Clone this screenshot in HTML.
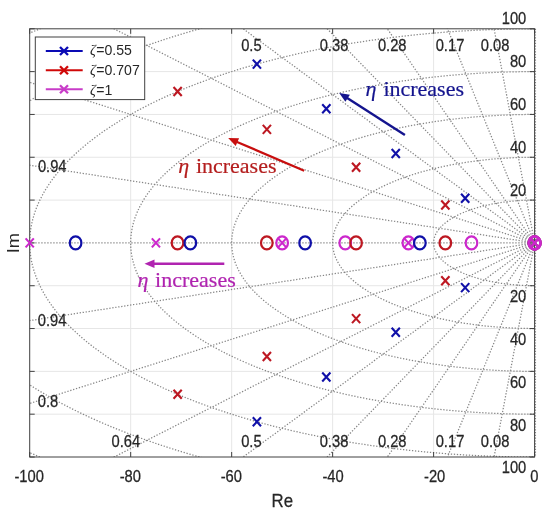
<!DOCTYPE html>
<html><head><meta charset="utf-8"><title>pzmap</title>
<style>html,body{margin:0;padding:0;background:#fff;}svg{display:block;}</style></head>
<body><svg width="550" height="517" viewBox="0 0 550 517">
<rect width="550" height="517" fill="#fff"/>
<defs><clipPath id="cb"><rect x="29.70" y="28.80" width="504.90" height="428.20"/></clipPath></defs>
<path d="M130.68 28.80V457.00 M231.66 28.80V457.00 M332.64 28.80V457.00 M433.62 28.80V457.00 M29.70 71.62H534.60 M29.70 114.44H534.60 M29.70 157.26H534.60 M29.70 200.08H534.60 M29.70 285.72H534.60 M29.70 328.54H534.60 M29.70 371.36H534.60 M29.70 414.18H534.60" stroke="#e6e6e6" stroke-width="1" fill="none"/>
<g clip-path="url(#cb)"><path d="M534.60 242.90L-414.61 96.81 M534.60 242.90L-414.61 388.99 M534.60 242.90L-273.24 -14.02 M534.60 242.90L-273.24 499.82 M534.60 242.90L-111.67 -86.12 M534.60 242.90L-111.67 571.92 M534.60 242.90L29.70 -127.93 M534.60 242.90L29.70 613.73 M534.60 242.90L150.88 -153.18 M534.60 242.90L150.88 638.98 M534.60 242.90L251.86 -168.17 M534.60 242.90L251.86 653.97 M534.60 242.90L362.93 -179.07 M534.60 242.90L362.93 664.87 M534.60 242.90L453.82 -183.93 M534.60 242.90L453.82 669.73 M534.60 242.90L-475.20 242.90 M534.60 200.08A100.98 42.82 0 0 0 433.62 242.90A100.98 42.82 0 0 0 534.60 285.72 M534.60 157.26A201.96 85.64 0 0 0 332.64 242.90A201.96 85.64 0 0 0 534.60 328.54 M534.60 114.44A302.94 128.46 0 0 0 231.66 242.90A302.94 128.46 0 0 0 534.60 371.36 M534.60 71.62A403.92 171.28 0 0 0 130.68 242.90A403.92 171.28 0 0 0 534.60 414.18 M534.60 28.80A504.90 214.10 0 0 0 29.70 242.90A504.90 214.10 0 0 0 534.60 457.00 M534.60 -14.02A605.88 256.92 0 0 0 -71.28 242.90A605.88 256.92 0 0 0 534.60 499.82 M534.60 -56.84A706.86 299.74 0 0 0 -172.26 242.90A706.86 299.74 0 0 0 534.60 542.64" stroke="#858585" stroke-width="1.25" stroke-dasharray="1.3 1.7" fill="none"/></g>
<path d="M535.50 28.80V457.00" stroke="#858585" stroke-width="1.1" stroke-dasharray="1.2 1.6"/>
<path d="M29.70 457.00v-5M29.70 28.80v5 M130.68 457.00v-5M130.68 28.80v5 M231.66 457.00v-5M231.66 28.80v5 M332.64 457.00v-5M332.64 28.80v5 M433.62 457.00v-5M433.62 28.80v5 M534.60 457.00v-5M534.60 28.80v5 M29.70 457.00h5M534.60 457.00h-5 M29.70 414.18h5M534.60 414.18h-5 M29.70 371.36h5M534.60 371.36h-5 M29.70 328.54h5M534.60 328.54h-5 M29.70 285.72h5M534.60 285.72h-5 M29.70 242.90h5M534.60 242.90h-5 M29.70 200.08h5M534.60 200.08h-5 M29.70 157.26h5M534.60 157.26h-5 M29.70 114.44h5M534.60 114.44h-5 M29.70 71.62h5M534.60 71.62h-5 M29.70 28.80h5M534.60 28.80h-5" stroke="#404040" stroke-width="1" fill="none"/>
<rect x="29.70" y="28.80" width="504.90" height="428.20" stroke="#404040" stroke-width="1" fill="none"/>
<path d="M25.60 238.40L33.80 247.40M25.60 247.40L33.80 238.40" stroke="#cc28cc" stroke-width="2.1" fill="none"/>
<ellipse cx="282.15" cy="242.90" rx="5.8" ry="6.5" stroke="#cc28cc" stroke-width="2.2" fill="none"/>
<path d="M151.83 238.40L160.03 247.40M151.83 247.40L160.03 238.40" stroke="#cc28cc" stroke-width="2.1" fill="none"/>
<ellipse cx="345.26" cy="242.90" rx="5.8" ry="6.5" stroke="#cc28cc" stroke-width="2.2" fill="none"/>
<path d="M278.05 238.40L286.25 247.40M278.05 247.40L286.25 238.40" stroke="#cc28cc" stroke-width="2.1" fill="none"/>
<ellipse cx="408.38" cy="242.90" rx="5.8" ry="6.5" stroke="#cc28cc" stroke-width="2.2" fill="none"/>
<path d="M404.27 238.40L412.48 247.40M404.27 247.40L412.48 238.40" stroke="#cc28cc" stroke-width="2.1" fill="none"/>
<ellipse cx="471.49" cy="242.90" rx="5.8" ry="6.5" stroke="#cc28cc" stroke-width="2.2" fill="none"/>
<path d="M173.54 86.99L181.74 95.99M173.54 95.99L181.74 86.99" stroke="#bd1822" stroke-width="2.1" fill="none"/>
<path d="M173.54 389.81L181.74 398.81M173.54 398.81L181.74 389.81" stroke="#bd1822" stroke-width="2.1" fill="none"/>
<ellipse cx="177.53" cy="242.90" rx="5.8" ry="6.5" stroke="#bd1822" stroke-width="2.2" fill="none"/>
<path d="M262.78 124.84L270.98 133.84M262.78 133.84L270.98 124.84" stroke="#bd1822" stroke-width="2.1" fill="none"/>
<path d="M262.78 351.96L270.98 360.96M262.78 360.96L270.98 351.96" stroke="#bd1822" stroke-width="2.1" fill="none"/>
<ellipse cx="266.80" cy="242.90" rx="5.8" ry="6.5" stroke="#bd1822" stroke-width="2.2" fill="none"/>
<path d="M352.02 162.69L360.22 171.69M352.02 171.69L360.22 162.69" stroke="#bd1822" stroke-width="2.1" fill="none"/>
<path d="M352.02 314.11L360.22 323.11M352.02 323.11L360.22 314.11" stroke="#bd1822" stroke-width="2.1" fill="none"/>
<ellipse cx="356.06" cy="242.90" rx="5.8" ry="6.5" stroke="#bd1822" stroke-width="2.2" fill="none"/>
<path d="M441.26 200.55L449.46 209.55M441.26 209.55L449.46 200.55" stroke="#bd1822" stroke-width="2.1" fill="none"/>
<path d="M441.26 276.25L449.46 285.25M441.26 285.25L449.46 276.25" stroke="#bd1822" stroke-width="2.1" fill="none"/>
<ellipse cx="445.33" cy="242.90" rx="5.8" ry="6.5" stroke="#bd1822" stroke-width="2.2" fill="none"/>
<path d="M252.80 59.59L261.00 68.59M252.80 68.59L261.00 59.59" stroke="#1010a8" stroke-width="2.1" fill="none"/>
<path d="M252.80 417.21L261.00 426.21M252.80 426.21L261.00 417.21" stroke="#1010a8" stroke-width="2.1" fill="none"/>
<ellipse cx="75.60" cy="242.90" rx="5.8" ry="6.5" stroke="#1010a8" stroke-width="2.2" fill="none"/>
<path d="M322.23 104.29L330.43 113.29M322.23 113.29L330.43 104.29" stroke="#1010a8" stroke-width="2.1" fill="none"/>
<path d="M322.23 372.51L330.43 381.51M322.23 381.51L330.43 372.51" stroke="#1010a8" stroke-width="2.1" fill="none"/>
<ellipse cx="190.35" cy="242.90" rx="5.8" ry="6.5" stroke="#1010a8" stroke-width="2.2" fill="none"/>
<path d="M391.65 149.00L399.85 158.00M391.65 158.00L399.85 149.00" stroke="#1010a8" stroke-width="2.1" fill="none"/>
<path d="M391.65 327.80L399.85 336.80M391.65 336.80L399.85 327.80" stroke="#1010a8" stroke-width="2.1" fill="none"/>
<ellipse cx="305.10" cy="242.90" rx="5.8" ry="6.5" stroke="#1010a8" stroke-width="2.2" fill="none"/>
<path d="M461.08 193.70L469.28 202.70M461.08 202.70L469.28 193.70" stroke="#1010a8" stroke-width="2.1" fill="none"/>
<path d="M461.08 283.10L469.28 292.10M461.08 292.10L469.28 283.10" stroke="#1010a8" stroke-width="2.1" fill="none"/>
<ellipse cx="419.85" cy="242.90" rx="5.8" ry="6.5" stroke="#1010a8" stroke-width="2.2" fill="none"/>
<path d="M530.50 238.40L538.70 247.40M530.50 247.40L538.70 238.40" stroke="#1010a8" stroke-width="2.1" fill="none"/>
<ellipse cx="534.60" cy="242.90" rx="5.8" ry="6.5" stroke="#1010a8" stroke-width="2.5" fill="none"/>
<path d="M530.50 238.40L538.70 247.40M530.50 247.40L538.70 238.40" stroke="#bd1822" stroke-width="2.1" fill="none"/>
<ellipse cx="534.60" cy="242.90" rx="5.8" ry="6.5" stroke="#bd1822" stroke-width="2.5" fill="none"/>
<path d="M530.50 238.40L538.70 247.40M530.50 247.40L538.70 238.40" stroke="#cc28cc" stroke-width="2.1" fill="none"/>
<ellipse cx="534.60" cy="242.90" rx="5.8" ry="6.5" stroke="#cc28cc" stroke-width="2.5" fill="none"/>
<path d="M530.50 238.40L538.70 247.40M530.50 247.40L538.70 238.40" stroke="#cc28cc" stroke-width="2.1" fill="none"/>
<ellipse cx="534.60" cy="242.90" rx="5.8" ry="6.5" stroke="#cc28cc" stroke-width="2.5" fill="none"/>
<text transform="translate(29.10 481.80) scale(0.92 1)" font-size="16" text-anchor="middle" fill="#262626" stroke="#262626" stroke-width="0.25" font-family='"Liberation Sans", Arial, Helvetica, sans-serif' >-100</text>
<text transform="translate(130.25 481.80) scale(0.92 1)" font-size="16" text-anchor="middle" fill="#262626" stroke="#262626" stroke-width="0.25" font-family='"Liberation Sans", Arial, Helvetica, sans-serif' >-80</text>
<text transform="translate(231.25 481.80) scale(0.92 1)" font-size="16" text-anchor="middle" fill="#262626" stroke="#262626" stroke-width="0.25" font-family='"Liberation Sans", Arial, Helvetica, sans-serif' >-60</text>
<text transform="translate(333.00 481.80) scale(0.92 1)" font-size="16" text-anchor="middle" fill="#262626" stroke="#262626" stroke-width="0.25" font-family='"Liberation Sans", Arial, Helvetica, sans-serif' >-40</text>
<text transform="translate(434.60 481.80) scale(0.92 1)" font-size="16" text-anchor="middle" fill="#262626" stroke="#262626" stroke-width="0.25" font-family='"Liberation Sans", Arial, Helvetica, sans-serif' >-20</text>
<text transform="translate(534.45 481.80) scale(0.92 1)" font-size="16" text-anchor="middle" fill="#262626" stroke="#262626" stroke-width="0.25" font-family='"Liberation Sans", Arial, Helvetica, sans-serif' >0</text>
<text transform="translate(282.30 506.60) scale(0.92 1)" font-size="18.3" text-anchor="middle" fill="#262626" stroke="#262626" stroke-width="0.25" font-family='"Liberation Sans", Arial, Helvetica, sans-serif' >Re</text>
<text transform="translate(19 243.1) rotate(-90) scale(1 0.92)" font-size="18.3" text-anchor="middle" fill="#262626" font-family='"Liberation Sans", Arial, Helvetica, sans-serif'>Im</text>
<text transform="translate(251.40 51.00) scale(0.92 1)" font-size="16" text-anchor="middle" fill="#262626" stroke="#262626" stroke-width="0.25" font-family='"Liberation Sans", Arial, Helvetica, sans-serif' >0.5</text>
<text transform="translate(251.40 447.40) scale(0.92 1)" font-size="16" text-anchor="middle" fill="#262626" stroke="#262626" stroke-width="0.25" font-family='"Liberation Sans", Arial, Helvetica, sans-serif' >0.5</text>
<text transform="translate(334.00 51.00) scale(0.92 1)" font-size="16" text-anchor="middle" fill="#262626" stroke="#262626" stroke-width="0.25" font-family='"Liberation Sans", Arial, Helvetica, sans-serif' >0.38</text>
<text transform="translate(334.00 447.40) scale(0.92 1)" font-size="16" text-anchor="middle" fill="#262626" stroke="#262626" stroke-width="0.25" font-family='"Liberation Sans", Arial, Helvetica, sans-serif' >0.38</text>
<text transform="translate(392.20 51.00) scale(0.92 1)" font-size="16" text-anchor="middle" fill="#262626" stroke="#262626" stroke-width="0.25" font-family='"Liberation Sans", Arial, Helvetica, sans-serif' >0.28</text>
<text transform="translate(392.20 447.40) scale(0.92 1)" font-size="16" text-anchor="middle" fill="#262626" stroke="#262626" stroke-width="0.25" font-family='"Liberation Sans", Arial, Helvetica, sans-serif' >0.28</text>
<text transform="translate(450.00 51.00) scale(0.92 1)" font-size="16" text-anchor="middle" fill="#262626" stroke="#262626" stroke-width="0.25" font-family='"Liberation Sans", Arial, Helvetica, sans-serif' >0.17</text>
<text transform="translate(450.00 447.40) scale(0.92 1)" font-size="16" text-anchor="middle" fill="#262626" stroke="#262626" stroke-width="0.25" font-family='"Liberation Sans", Arial, Helvetica, sans-serif' >0.17</text>
<text transform="translate(495.10 51.00) scale(0.92 1)" font-size="16" text-anchor="middle" fill="#262626" stroke="#262626" stroke-width="0.25" font-family='"Liberation Sans", Arial, Helvetica, sans-serif' >0.08</text>
<text transform="translate(495.10 447.40) scale(0.92 1)" font-size="16" text-anchor="middle" fill="#262626" stroke="#262626" stroke-width="0.25" font-family='"Liberation Sans", Arial, Helvetica, sans-serif' >0.08</text>
<text transform="translate(125.90 447.00) scale(0.92 1)" font-size="16" text-anchor="middle" fill="#262626" stroke="#262626" stroke-width="0.25" font-family='"Liberation Sans", Arial, Helvetica, sans-serif' >0.64</text>
<text transform="translate(52.20 171.90) scale(0.92 1)" font-size="16" text-anchor="middle" fill="#262626" stroke="#262626" stroke-width="0.25" font-family='"Liberation Sans", Arial, Helvetica, sans-serif' >0.94</text>
<text transform="translate(52.10 325.60) scale(0.92 1)" font-size="16" text-anchor="middle" fill="#262626" stroke="#262626" stroke-width="0.25" font-family='"Liberation Sans", Arial, Helvetica, sans-serif' >0.94</text>
<text transform="translate(48.00 407.40) scale(0.92 1)" font-size="16" text-anchor="middle" fill="#262626" stroke="#262626" stroke-width="0.25" font-family='"Liberation Sans", Arial, Helvetica, sans-serif' >0.8</text>
<text transform="translate(526.30 195.68) scale(0.92 1)" font-size="16" text-anchor="end" fill="#262626" stroke="#262626" stroke-width="0.25" font-family='"Liberation Sans", Arial, Helvetica, sans-serif' >20</text>
<text transform="translate(526.30 302.12) scale(0.92 1)" font-size="16" text-anchor="end" fill="#262626" stroke="#262626" stroke-width="0.25" font-family='"Liberation Sans", Arial, Helvetica, sans-serif' >20</text>
<text transform="translate(526.30 152.86) scale(0.92 1)" font-size="16" text-anchor="end" fill="#262626" stroke="#262626" stroke-width="0.25" font-family='"Liberation Sans", Arial, Helvetica, sans-serif' >40</text>
<text transform="translate(526.30 344.94) scale(0.92 1)" font-size="16" text-anchor="end" fill="#262626" stroke="#262626" stroke-width="0.25" font-family='"Liberation Sans", Arial, Helvetica, sans-serif' >40</text>
<text transform="translate(526.30 110.04) scale(0.92 1)" font-size="16" text-anchor="end" fill="#262626" stroke="#262626" stroke-width="0.25" font-family='"Liberation Sans", Arial, Helvetica, sans-serif' >60</text>
<text transform="translate(526.30 387.76) scale(0.92 1)" font-size="16" text-anchor="end" fill="#262626" stroke="#262626" stroke-width="0.25" font-family='"Liberation Sans", Arial, Helvetica, sans-serif' >60</text>
<text transform="translate(526.30 67.22) scale(0.92 1)" font-size="16" text-anchor="end" fill="#262626" stroke="#262626" stroke-width="0.25" font-family='"Liberation Sans", Arial, Helvetica, sans-serif' >80</text>
<text transform="translate(526.30 430.58) scale(0.92 1)" font-size="16" text-anchor="end" fill="#262626" stroke="#262626" stroke-width="0.25" font-family='"Liberation Sans", Arial, Helvetica, sans-serif' >80</text>
<text transform="translate(526.30 24.40) scale(0.92 1)" font-size="16" text-anchor="end" fill="#262626" stroke="#262626" stroke-width="0.25" font-family='"Liberation Sans", Arial, Helvetica, sans-serif' >100</text>
<text transform="translate(526.30 473.40) scale(0.92 1)" font-size="16" text-anchor="end" fill="#262626" stroke="#262626" stroke-width="0.25" font-family='"Liberation Sans", Arial, Helvetica, sans-serif' >100</text>
<rect x="35.3" y="37.0" width="109.4" height="62.6" fill="#fff" stroke="#404040" stroke-width="1"/>
<path d="M45.8 51.00H82.7" stroke="#0a0ab4" stroke-width="2"/>
<path d="M60.00 47.00L68.00 55.00M60.00 55.00L68.00 47.00" stroke="#0a0ab4" stroke-width="2.3"/>
<text x="90.0" y="55.30" font-size="14.4" fill="#262626" font-family='"Liberation Serif", "Times New Roman", serif' font-style="italic">ζ</text>
<text x="96.3" y="54.80" font-size="14.1" fill="#262626" font-family='"Liberation Sans", Arial, Helvetica, sans-serif'>=0.55</text>
<path d="M45.8 70.20H82.7" stroke="#d00808" stroke-width="2"/>
<path d="M60.00 66.20L68.00 74.20M60.00 74.20L68.00 66.20" stroke="#d00808" stroke-width="2.3"/>
<text x="90.0" y="75.20" font-size="14.4" fill="#262626" font-family='"Liberation Serif", "Times New Roman", serif' font-style="italic">ζ</text>
<text x="96.3" y="74.70" font-size="14.1" fill="#262626" font-family='"Liberation Sans", Arial, Helvetica, sans-serif'>=0.707</text>
<path d="M45.8 89.30H82.7" stroke="#c83cc8" stroke-width="2"/>
<path d="M60.00 85.30L68.00 93.30M60.00 93.30L68.00 85.30" stroke="#c83cc8" stroke-width="2.3"/>
<text x="90.0" y="95.00" font-size="14.4" fill="#262626" font-family='"Liberation Serif", "Times New Roman", serif' font-style="italic">ζ</text>
<text x="96.3" y="94.50" font-size="14.1" fill="#262626" font-family='"Liberation Sans", Arial, Helvetica, sans-serif'>=1</text>
<path d="M304.20 170.80L236.47 141.66" stroke="#c80e0e" stroke-width="2.2"/><path d="M228.20 138.10L239.05 138.19L235.73 145.91Z" fill="#c80e0e"/>
<path d="M404.90 135.00L346.78 97.76" stroke="#14148e" stroke-width="2.4"/><path d="M339.20 92.90L349.89 94.76L345.35 101.83Z" fill="#14148e"/>
<path d="M224.30 263.70L153.50 263.70" stroke="#b024b0" stroke-width="2.4"/><path d="M144.50 263.70L154.50 259.50L154.50 267.90Z" fill="#b024b0"/>
<text x="178.30" y="173.20" font-size="22" fill="#b41e1e" stroke="#b41e1e" stroke-width="0.2" font-family='"Liberation Serif", "Times New Roman", serif' font-style="italic">η</text><text x="195.90" y="173.20" font-size="22" fill="#b41e1e" stroke="#b41e1e" stroke-width="0.2" font-family='"Liberation Serif", "Times New Roman", serif'>increases</text>
<text x="365.60" y="96.10" font-size="22" fill="#14148e" stroke="#14148e" stroke-width="0.2" font-family='"Liberation Serif", "Times New Roman", serif' font-style="italic">η</text><text x="383.40" y="96.10" font-size="22" fill="#14148e" stroke="#14148e" stroke-width="0.2" font-family='"Liberation Serif", "Times New Roman", serif'>increases</text>
<text x="137.40" y="287.30" font-size="22" fill="#b024b0" stroke="#b024b0" stroke-width="0.2" font-family='"Liberation Serif", "Times New Roman", serif' font-style="italic">η</text><text x="155.10" y="287.30" font-size="22" fill="#b024b0" stroke="#b024b0" stroke-width="0.2" font-family='"Liberation Serif", "Times New Roman", serif'>increases</text>
</svg></body></html>
